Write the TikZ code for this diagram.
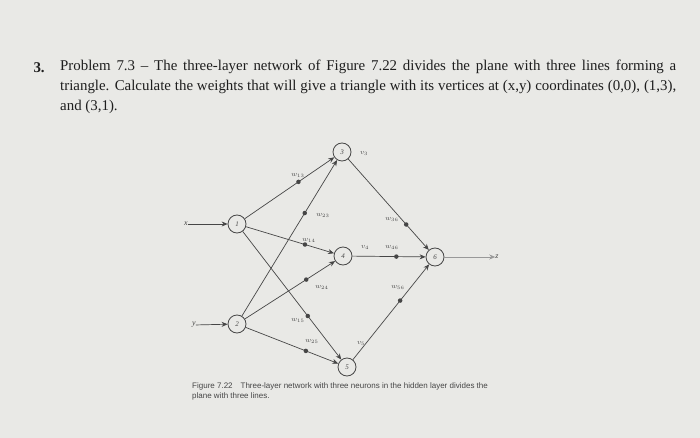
\documentclass[tikz,border=0pt]{standalone}
\usepackage{fontspec}
\setmainfont{Liberation Serif}
\newfontfamily\capfont{Liberation Sans}
\usetikzlibrary{arrows.meta}
\definecolor{paper}{RGB}{233,233,230}
\definecolor{ink}{RGB}{70,70,70}
\definecolor{textink}{RGB}{30,30,30}
\tikzset{
  neuron/.style={circle,draw=ink,line width=0.8pt,minimum size=18pt,inner sep=0pt,font=\fontsize{7}{7}\selectfont\itshape,text=ink},
  wdot/.style={circle,fill=ink,minimum size=4.5pt,inner sep=0pt},
  link/.style={draw=ink,line width=0.7pt,-{Stealth[length=6pt,width=5pt]}},
  wlabel/.style={font=\fontsize{7}{7}\selectfont,text=ink,inner sep=0pt}
}
\begin{document}
\begin{tikzpicture}[x=1pt,y=-1pt]
\fill[paper] (0,0) rectangle (700,438);
\useasboundingbox (0,0) rectangle (700,438);
\node[anchor=base west,text=textink,font=\fontsize{14.9}{20}\selectfont\bfseries] (num) at (30,73) {3.};
\node[anchor=north west,text=textink,align=justify,text width=616pt,inner sep=0pt,font=\fontsize{14.9}{20}\selectfont] (task) at (60,60)
{Problem 7.3 -- The three-layer network of Figure 7.22 divides the plane with three lines forming a\linebreak
triangle. Calculate the weights that will give a triangle with its vertices at (x,y) coordinates (0,0), (1,3),\linebreak
and (3,1).};
\node[neuron] (n1) at (237,224) {1};
\node[neuron] (n2) at (237,324) {2};
\node[neuron] (n3) at (342,152) {3};
\node[neuron] (n4) at (343,256) {4};
\node[neuron] (n5) at (347,367) {5};
\node[neuron] (n6) at (435,257) {6};
\node[wlabel,font=\fontsize{8}{8}\selectfont\itshape] (inx) at (186,224) {x};
\node[wlabel,font=\fontsize{8}{8}\selectfont\itshape] (iny) at (194,325) {y};
\node[wlabel,font=\fontsize{8}{8}\selectfont\itshape] (outz) at (497,257) {z};
\draw[link] (inx) -- (n1);
\draw[link] (iny) -- (n2);
\draw[link,draw=ink!55] (n6) -- (outz);
\draw[link] (n1) -- node[wdot,pos=0.6] (d13) {} (n3);
\draw[link] (n2) -- node[wdot,pos=0.66] (d23) {} (n3);
\draw[link] (n1) -- node[wdot,pos=0.67] (d14) {} (n4);
\draw[link] (n2) -- node[wdot,pos=0.68] (d24) {} (n4);
\draw[link] (n1) -- node[wdot,pos=0.66] (d15) {} (n5);
\draw[link] (n2) -- node[wdot,pos=0.65] (d25) {} (n5);
\draw[link] (n3) -- node[wdot,pos=0.72] (d36) {} (n6);
\draw[link] (n4) -- node[wdot,pos=0.6] (d46) {} (n6);
\draw[link] (n5) -- node[wdot,pos=0.62] (d56) {} (n6);
\node[wlabel] (l13) at (298,175) {$w_{13}$};
\node[wlabel] (l23) at (323,215) {$w_{23}$};
\node[wlabel] (l14) at (309,240) {$w_{14}$};
\node[wlabel] (l24) at (322,287) {$w_{24}$};
\node[wlabel] (l15) at (298,320) {$w_{15}$};
\node[wlabel] (l25) at (312,341) {$w_{25}$};
\node[wlabel] (l36) at (392,219) {$w_{36}$};
\node[wlabel] (l46) at (392,247) {$w_{46}$};
\node[wlabel] (l56) at (398,287) {$w_{56}$};
\node[wlabel] (v3) at (364,153) {$v_3$};
\node[wlabel] (v4) at (365,247) {$v_4$};
\node[wlabel] (v5) at (361,343) {$v_5$};
\node[anchor=north west,align=left,inner sep=0pt,text=ink,font=\capfont\fontsize{8}{10.5}\selectfont] (cap) at (192,382)
{Figure 7.22\quad Three-layer network with three neurons in the hidden layer divides the\\
plane with three lines.};
\end{tikzpicture}
\end{document}
